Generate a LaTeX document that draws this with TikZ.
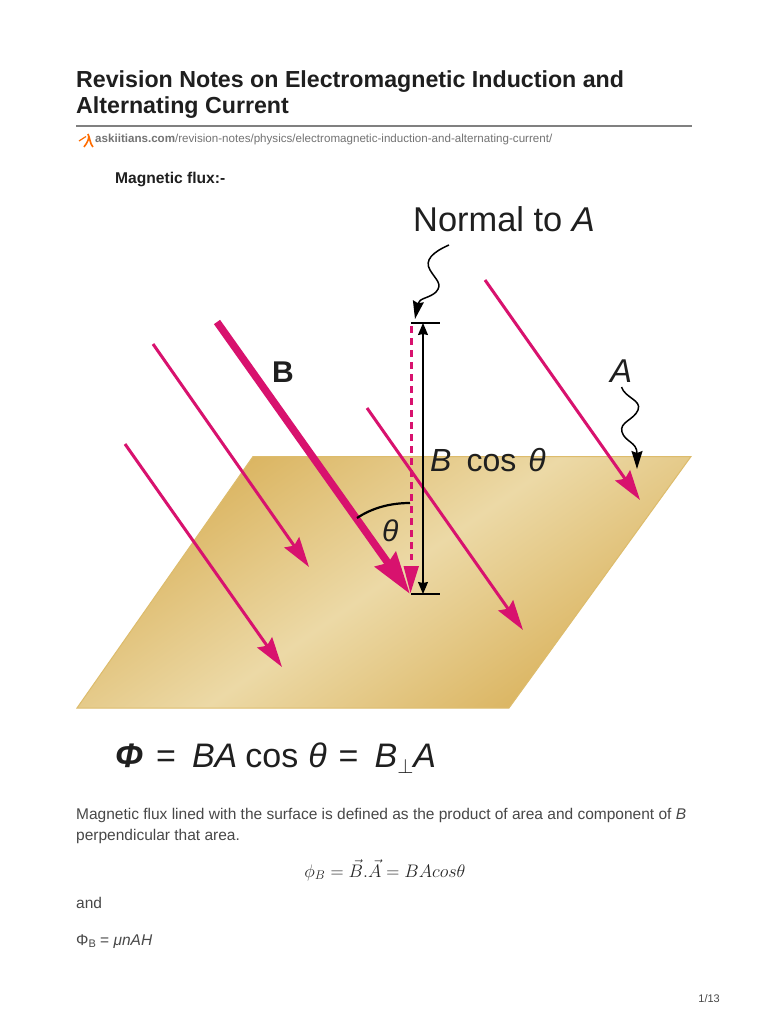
\documentclass[tikz,border=0pt]{standalone}
\usepackage{fontspec}
\usepackage{amsmath}
\usepackage{graphicx}
\setmainfont{Liberation Sans}
\usetikzlibrary{arrows.meta,positioning}
\definecolor{fluxpink}{HTML}{D8126E}
\definecolor{plateedge}{HTML}{DDBC6C}
\definecolor{platedark}{HTML}{D9B15A}
\definecolor{platelight}{HTML}{ECD9A6}
\definecolor{bodygrey}{HTML}{484848}
\tikzset{
  fieldline/.style={draw=fluxpink,line width=3pt,-{Stealth[length=30pt,width=18pt,inset=4pt]}},
  wavyline/.style={draw=black,line width=1.5pt,-{Stealth[length=18pt,width=11pt,inset=2pt]}},
  bodytext/.style={anchor=base west,inner sep=0pt,text=bodygrey,font=\fontsize{15.5}{15.5}\selectfont},
  figtext/.style={inner sep=0pt,anchor=base west,text=black!88}
}
\begin{document}
\begin{tikzpicture}[x=1pt,y=-1pt]
  \useasboundingbox (0,0) rectangle (768,1024);
  \fill[white] (0,0) rectangle (768,1024);

  % Header
  \node[figtext,font=\bfseries\fontsize{23.2}{23.2}\selectfont] (title1) at (76,87.5) {Revision Notes on Electromagnetic Induction and};
  \node[figtext,font=\bfseries\fontsize{23.2}{23.2}\selectfont] (title2) at (76,114) {Alternating Current};
  \draw[line width=2pt,black!50] (76,126.5) -- (692,126.5);
  \draw[orange!85!red,line width=1.6pt] (84,147) .. controls (88,142) and (90,137) .. (88,134) .. controls (90,138) and (90,144) .. (93,147);
  \draw[orange!85!red,line width=1.2pt] (79,141) -- (86,136.5);
  \node[bodytext,font=\fontsize{11.6}{11.6}\selectfont,text=black!55] (source) at (95,143)
    {\textbf{askiitians.com}/revision-notes/physics/electromagnetic-induction-and-alternating-current/};
  \node[figtext,font=\bfseries\fontsize{15.6}{15.6}\selectfont] (subhead) at (115,184) {Magnetic flux:-};

  % Plate
  \shade[top color=platedark,bottom color=platedark,middle color=platelight,shading angle=35,draw=plateedge,line width=1pt]
    (253,456.5) -- (691,456.5) -- (509,708) -- (77,708) -- cycle;

  % Field arrows
  \coordinate (f1s) at (125,444); \coordinate (f1e) at (282,667);
  \coordinate (f2s) at (153,344); \coordinate (f2e) at (309,567);
  \coordinate (f3s) at (367,408); \coordinate (f3e) at (523,630);
  \coordinate (f4s) at (485,280); \coordinate (f4e) at (640,500);
  \coordinate (bs) at (217,322); \coordinate (be) at (410,594);
  \draw[fieldline] (f1s) -- (f1e);
  \draw[fieldline] (f2s) -- (f2e);
  \draw[fieldline] (f3s) -- (f3e);
  \draw[fieldline] (f4s) -- (f4e);
  \draw[fluxpink,line width=3pt,dash pattern=on 7pt off 5pt] (411,326) -- (411,560);
  \fill[fluxpink] (403.5,566) -- (419,566) -- (410.5,593) -- cycle;
  \draw[draw=fluxpink,line width=7.5pt,-{Stealth[length=42pt,width=25pt,inset=4pt]}] (bs) -- (be);

  % Normal component
  \coordinate (captop) at (423,323); \coordinate (capbot) at (423,594);
  \draw[line width=1.6pt] (411,323) -- (440,323);
  \draw[line width=1.6pt] (411,594) -- (440,594);
  \draw[line width=1.2pt,{Stealth[length=12pt,width=10pt,inset=1pt]}-{Stealth[length=12pt,width=10pt,inset=1pt]}] (captop) -- (capbot);

  % Angle
  \coordinate (arcs) at (357,518); \coordinate (arce) at (410,503);
  \draw[line width=2.2pt] (arcs) .. controls (372,508) and (390,503) .. (arce);

  % Labels
  \node[figtext,font=\fontsize{34.4}{34.4}\selectfont] (normal) at (413,232) {Normal to \textit{A}};
  \node[figtext,font=\fontsize{33}{33}\selectfont] (alabel) at (610,382) {\textit{A}};
  \node[figtext,font=\bfseries\fontsize{30}{30}\selectfont] (blabel) at (272,382) {B};
  \node[figtext,font=\fontsize{32}{32}\selectfont] (bcos) at (430,471) {\textit{B}\hspace{15pt}cos\hspace{12pt}\textit{θ}};
  \node[figtext,font=\fontsize{30}{30}\selectfont] (theta) at (382,541) {\textit{θ}};

  % Wavy pointers
  \coordinate (w1s) at (449,245); \coordinate (w1e) at (415,319);
  \coordinate (w2s) at (621.5,387); \coordinate (w2e) at (637,469);
  \draw[wavyline] (w1s) .. controls (433,252) and (424,260) .. (430,270) .. controls (436,280) and (443,284) .. (436,292) .. controls (430,298) and (419,298) .. (w1e);
  \draw[wavyline] (w2s) .. controls (625,398) and (642,400) .. (638,410) .. controls (634,420) and (619,422) .. (622,432) .. controls (625,442) and (637,442) .. (w2e);

  % Formula in the figure
  \node[figtext,font=\fontsize{34}{34}\selectfont] (phi) at (115,767)
    {\textbf{\textit{Φ}}\hspace{13pt}=\hspace{16pt}\textit{BA}\hspace{8pt}cos\hspace{10pt}\textit{θ}\hspace{12pt}=\hspace{16pt}\textit{B}\raisebox{-6pt}{\fontsize{20}{20}\selectfont$\perp$}\textit{A}};

  % Body text
  \node[bodytext] (line1) at (76,819) {Magnetic flux lined with the surface is defined as the product of area and component of \textit{B}};
  \node[bodytext] (line2) at (76,840) {perpendicular that area.};
  \node[inner sep=0pt,anchor=base,font=\fontsize{18.5}{18.5}\selectfont,text=black!85] (eqn) at (385,877)
    {\scalebox{1.05}{$\phi_B=\vec{B}.\vec{A}=BAcos\theta$}};
  \node[bodytext] (line3) at (76,908) {and};
  \node[bodytext] (line4) at (76,945) {Φ\raisebox{-2pt}{\fontsize{11}{11}\selectfont B} = \textit{μnAH}};

  % Footer
  \node[bodytext,font=\fontsize{11}{11}\selectfont,anchor=base east] (page) at (720,1002) {1/13};
\end{tikzpicture}
\end{document}
